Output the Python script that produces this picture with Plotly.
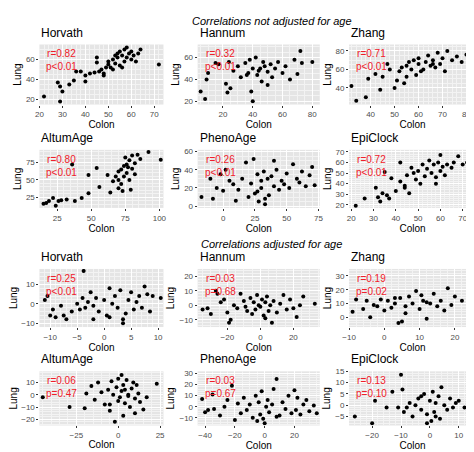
import plotly.graph_objects as go
from plotly.subplots import make_subplots

W, H = 474, 452

# ---- data ----
names = ["Horvath", "Hannum", "Zhang", "AltumAge", "PhenoAge", "EpiClock"] * 2
stats = [("0.82", "<0.01"), ("0.32", "<0.01"), ("0.71", "<0.01"),
         ("0.80", "<0.01"), ("0.26", "<0.01"), ("0.72", "<0.01"),
         ("0.25", "<0.01"), ("0.03", "=0.68"), ("0.19", "=0.02"),
         ("0.06", "=0.47"), ("0.03", "=0.67"), ("0.13", "=0.10")]

horvath_x = [22,28,29,29,30,33,35,36,38,40,40,42,44,45,46,47,48,49,50,50,51,52,53,54,54,55,55,56,57,57,58,58,59,60,60,61,62,63,64,72,48,52,45,56,53]
horvath_y = [23,37,18,33,28,35,39,48,48,44,38,46,47,62,48,50,46,52,55,58,52,60,56,66,62,54,68,64,70,58,62,72,66,60,68,64,58,66,70,55,44,50,57,52,64]
hannum_x = [5,8,9,10,15,17,22,23,24,25,27,30,32,35,37,38,40,40,42,43,45,46,47,48,50,52,53,55,57,60,62,65,68,70,72,73,80,44,36,50,39]
hannum_y = [29,22,40,46,55,54,36,28,56,32,48,52,42,55,46,58,20,50,60,44,50,38,56,52,47,54,42,50,56,46,52,40,58,45,66,55,56,48,44,35,29]
zhang_x = [32,34,38,39,42,44,45,47,48,50,51,52,53,54,55,56,57,58,59,60,60,62,63,64,65,66,67,68,69,70,71,72,74,76,78,80,82,61,66,55]
zhang_y = [42,26,30,50,55,38,52,66,60,40,48,58,62,45,64,68,60,70,54,66,72,60,68,75,64,70,62,78,66,72,58,80,70,74,68,76,84,58,66,52]
altum_x = [15,17,19,22,24,26,28,32,36,38,43,48,48,54,56,62,64,66,68,70,70,72,72,74,74,75,76,76,78,78,80,80,82,82,84,86,92,101,73,79,70,77]
altum_y = [16,17,20,24,13,20,21,22,72,20,24,31,57,67,40,57,32,48,55,50,38,65,44,70,55,82,60,72,50,78,66,85,74,58,86,80,90,79,34,36,62,68]
pheno_x = [-17,-10,-8,-5,-2,0,2,5,8,10,12,15,18,20,22,24,25,27,28,30,30,32,33,35,36,38,40,40,42,44,46,48,50,52,55,58,60,62,65,68,70,72,33,27]
pheno_y = [10,30,8,20,35,17,40,28,24,6,18,30,48,10,25,52,14,35,5,28,20,38,2,30,12,33,50,22,40,18,28,24,36,20,46,30,26,38,22,34,43,23,8,16]
epi_x = [22,26,31,32,33,34,35,36,37,38,40,42,42,44,45,46,47,48,49,50,51,52,53,54,55,56,57,58,59,60,60,61,62,63,65,66,68,70,72,74,58,44]
epi_y = [19,26,36,27,23,31,51,29,26,45,33,60,42,38,48,31,55,50,44,52,40,58,47,54,62,50,58,46,60,52,67,56,48,58,55,60,66,58,60,56,40,36]

horvath_adj_x = [-11,-10.5,-10,-9.5,-9,-8,-7.5,-7,-6,-5,-4.5,-4,-3.8,-3.5,-3,-2.5,-2,-1.5,-1,0,0.5,1,1.5,2,2.5,3,3.5,4,4.5,5,5.5,6,6.5,7,7.5,8,8.5,9,10.5,-2,3.5,1]
horvath_adj_y = [2,4,-6,-3,-7,-1,-6,-8,-4,0,-3,3,17,-2,1,6,-8,3,-4,2,-6,8,0,4,-2,7,-10,-5,2,6,-3,1,4,-2,9,5,-4,4,3,-1,-8,-7]
hannum_adj_x = [-35,-32,-30,-27,-26,-24,-22,-20,-19,-18,-16,-14,-12,-10,-8,-6,-5,-4,-3,-2,-1,0,1,2,3,4,5,6,7,8,10,12,14,16,18,20,22,24,26,33,-9,3]
hannum_adj_y = [-3,-2,-6,10,8,2,4,-5,-12,-10,0,-2,8,3,-4,5,-6,2,-3,7,0,-1,4,-7,2,6,-4,0,-12,3,-5,1,7,-3,4,-2,-8,0,6,1,-1,-9]
zhang_adj_x = [-9,-8,-6,-5,-4,-3,-2,-1,0,1,2,3,4,4.5,5,6,7,8,9,10,10.5,11,12,13,14,15,16,17,18,19,20,22,24,25,6,12,3]
zhang_adj_y = [4,13,6,12,0,9,8,13,5,12,7,10,-4,14,-3,8,15,10,19,6,16,12,-1,10,17,8,12,5,21,9,15,12,8,18,3,11,14]
altum_adj_x = [-45,-29,-20,-19,-16,-14,-12,-10,-8,-6,-5,-4,-3,-2,-1,0,0,1,2,2,3,3,4,5,6,7,8,9,10,10,11,12,13,15,17,23,-5,4,6]
altum_adj_y = [-2,-10,-11,1,7,-4,10,2,-8,4,-13,11,0,-22,6,-5,13,-2,16,3,-17,8,-7,12,0,-10,5,10,-3,-15,8,1,-6,-12,-2,9,-8,4,-1]
pheno_adj_x = [-42,-40,-38,-35,-34,-30,-27,-25,-22,-20,-18,-16,-14,-12,-10,-8,-6,-5,-4,-3,-2,0,1,2,3,5,6,8,10,12,14,16,18,20,21,22,24,26,28,30,33,35,-1,8]
pheno_adj_y = [7,-5,-3,11,-2,-8,0,6,19,-12,3,-6,8,-3,2,-10,10,-13,4,-7,14,-15,0,6,-5,2,16,25,-8,4,-2,10,-6,15,-3,8,-7,2,6,-4,1,-6,-11,-9]
epi_adj_x = [-26,-20,-19,-15,-13,-11,-10,-9.5,-9,-8,-7,-6,-5,-4,-3,-2,-1,0,0.5,1,1.5,2,3,3.5,4,5,6,7,8,9,10,12,15,-1,2,-3]
epi_adj_y = [-5,-8,2,-1,6,-1,13.5,7,-3,-1,1,-5,0,3,-2,5,-4,2,-7,6,-3,1,4,-6,8,0,-2,3,-1,1,2,-1,7,-8,-5,4]

series = [(horvath_x, horvath_y), (hannum_x, hannum_y), (zhang_x, zhang_y),
          (altum_x, altum_y), (pheno_x, pheno_y), (epi_x, epi_y),
          (horvath_adj_x, horvath_adj_y), (hannum_adj_x, hannum_adj_y), (zhang_adj_x, zhang_adj_y),
          (altum_adj_x, altum_adj_y), (pheno_adj_x, pheno_adj_y), (epi_adj_x, epi_adj_y)]

# axis ranges / ticks per panel
xr = [[20, 74], [3, 85], [31, 84], [12, 103], [-20, 76], [19, 76],
      [-12, 11], [-38, 36], [-10, 26], [-47, 27], [-45, 37], [-28, 16]]
yr = [[15, 75], [17, 72], [22, 87], [10, 93], [-2, 62], [17, 72],
      [-12, 18], [-15, 25], [-7, 35], [-25, 19], [-17, 32], [-9, 15]]
xd = [10, 20, 10, 25, 25, 10, 5, 20, 10, 25, 20, 10]
yd = [20, 20, 20, 25, 20, 10, 10, 10, 10, 10, 10, 5]

# ---- layout in pixels ----
col_px = [(25, 152), (187, 312), (342, 472)]
row_px = [(33, 94), (140, 199), (261, 320), (365, 420)]

fig = make_subplots(rows=4, cols=3)

for i, (xs, ys) in enumerate(series):
    r, c = i // 3, i % 3
    fig.add_trace(go.Scatter(x=xs, y=ys, mode="markers", showlegend=False,
                             marker=dict(color="black", size=4)),
                  row=r + 1, col=c + 1)
    x0, x1 = col_px[c]
    y0, y1 = row_px[r]
    ax = "" if i == 0 else str(i + 1)
    axis_common = dict(showgrid=True, gridcolor="white", gridwidth=1,
                       minor=dict(showgrid=True, gridcolor="#F3F3F3", gridwidth=0.5),
                       zeroline=False, ticks="outside", ticklen=2, tickcolor="#333",
                       tickfont=dict(size=8, color="#4D4D4D"))
    fig.layout["xaxis" + ax].update(domain=[x0 / W, x1 / W], range=xr[i], dtick=xd[i],
                                    title=dict(text="Colon", font=dict(size=10, color="black"), standoff=1),
                                    **axis_common)
    fig.layout["yaxis" + ax].update(domain=[1 - y1 / H, 1 - y0 / H], range=yr[i], dtick=yd[i],
                                    title=dict(text="Lung", font=dict(size=10, color="black"), standoff=2),
                                    **axis_common)
    # panel title
    fig.add_annotation(text=names[i], x=x0 / W, y=1 - (y0 - 3) / H, xref="paper", yref="paper",
                       xanchor="left", yanchor="bottom", showarrow=False,
                       font=dict(size=12, color="black"))
    rv, pv = stats[i]
    fig.add_annotation(text="r=" + rv + "<br>p" + pv, x=(x0 + 5) / W, y=1 - (y0 + 2) / H,
                       xref="paper", yref="paper", xanchor="left", yanchor="top",
                       showarrow=False, align="center",
                       font=dict(size=10, color="#F0202A"))

fig.add_annotation(text="<i>Correlations not adjusted for age</i>", x=0.555, y=1 - 1 / H,
                   xref="paper", yref="paper", yanchor="top", showarrow=False,
                   font=dict(size=11, color="black"))
fig.add_annotation(text="<i>Correlations adjusted for age</i>", x=0.555, y=1 - 228 / H,
                   xref="paper", yref="paper", yanchor="top", showarrow=False,
                   font=dict(size=11, color="black"))

fig.update_layout(width=W, height=H, margin=dict(l=0, r=0, t=0, b=0),
                  paper_bgcolor="white", plot_bgcolor="#E5E5E5",
                  font=dict(family="Liberation Sans, Arial, sans-serif"))

fig.write_html("out.html")
